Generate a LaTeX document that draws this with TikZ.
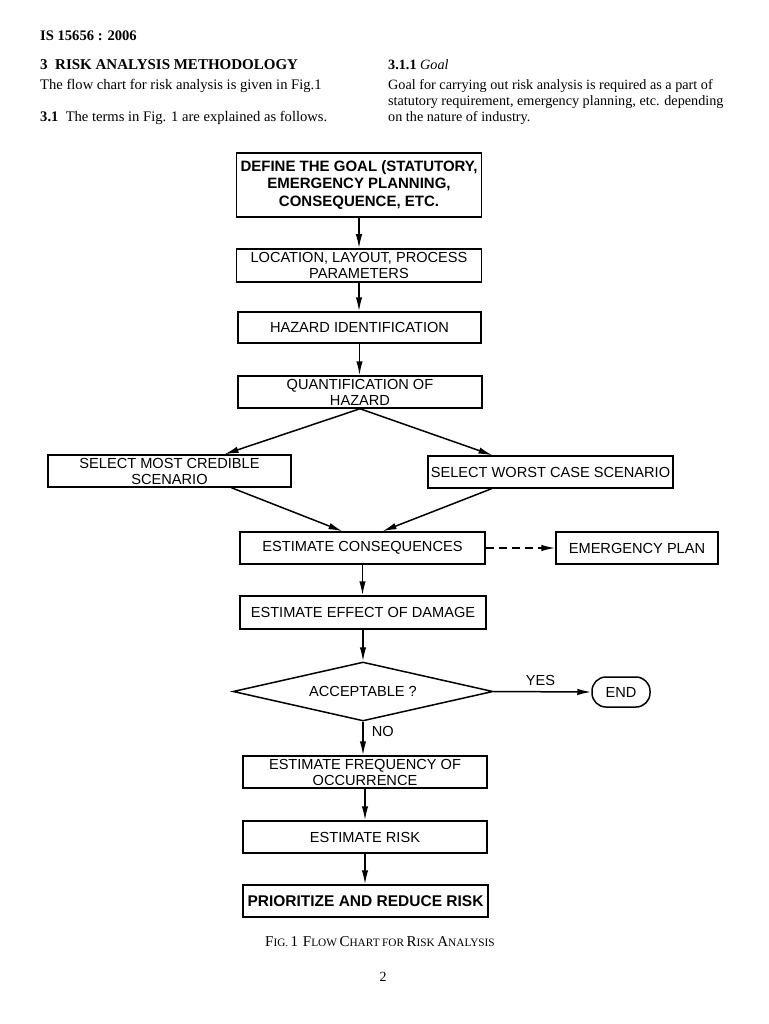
\documentclass[tikz,border=0pt]{standalone}
\usepackage{fontspec}
\setmainfont{Liberation Serif}
\newfontfamily\arialf{Liberation Sans}
\usetikzlibrary{shapes.geometric,arrows.meta}
\newcommand{\capsc}[2]{{\fontsize{15}{17}\selectfont #1}{\fontsize{11.3}{13}\selectfont #2}}
\begin{document}
\begin{tikzpicture}[x=1pt,y=-1pt,
  box/.style={draw, line width=1.5pt, minimum width=245pt, minimum height=32pt, inner sep=0pt, align=center, font=\arialf\fontsize{14.6}{16}\selectfont},
  arr/.style={-{Latex[length=14pt,width=6.5pt]}, line width=1.5pt},
  body/.style={anchor=base west, inner sep=0pt, font=\fontsize{14.6}{16}\selectfont},
  rbody/.style={anchor=base west, inner sep=0pt, font=\fontsize{14.2}{16}\selectfont},
  lbl/.style={inner sep=0pt, font=\arialf\fontsize{14.6}{16}\selectfont}]
\fill[white] (0,0) rectangle (768,1024);
\useasboundingbox (0,0) rectangle (768,1024);
% header text
\node[body] (hdr) at (40,41) {\textbf{IS 15656 : 2006}};
\node[body, font=\fontsize{15}{17}\selectfont] (sec) at (40,70) {\textbf{3\enspace RISK ANALYSIS METHODOLOGY}};
\node[body] (l1) at (40,90) {The flow chart for risk analysis is given in Fig.1};
\node[body] (l2) at (40,122) {\textbf{3.1}\enspace The terms in Fig. 1 are explained as follows.};
\node[rbody] (r0) at (388,70) {\textbf{3.1.1} \textit{Goal}};
\node[rbody] (r1) at (388,90) {Goal for carrying out risk analysis is required as a part of};
\node[rbody] (r2) at (388,106) {statutory requirement, emergency planning, etc. depending};
\node[rbody] (r3) at (388,122) {on the nature of industry.};
% flowchart boxes
\node[box, minimum height=64pt, font=\arialf\bfseries\fontsize{15}{17.5}\selectfont] (goal) at (359,185) {DEFINE THE GOAL (STATUTORY,\\EMERGENCY PLANNING,\\CONSEQUENCE, ETC.};
\node[box, minimum height=33pt] (loc) at (359,265.5) {LOCATION, LAYOUT, PROCESS\\PARAMETERS};
\node[box, minimum width=243pt, minimum height=31pt] (haz) at (359.5,327.5) {HAZARD IDENTIFICATION};
\node[box, minimum width=244pt] (quant) at (360,392) {QUANTIFICATION OF\\HAZARD};
\node[box, minimum width=243pt] (cred) at (169.5,471) {SELECT MOST CREDIBLE\\SCENARIO};
\node[box] (worst) at (550.5,472) {SELECT WORST CASE SCENARIO};
\node[box] (cons) at (362.5,548) {ESTIMATE CONSEQUENCES};
\node[box, minimum width=162pt] (emerg) at (637,548) {EMERGENCY PLAN};
\node[box, minimum width=246pt, minimum height=33pt] (effect) at (363,612.5) {ESTIMATE EFFECT OF DAMAGE};
\node[draw, diamond, line width=1.5pt, minimum width=260pt, minimum height=59pt, aspect=4.4, inner sep=0pt, font=\arialf\fontsize{14.6}{16}\selectfont] (acc) at (363,691.5) {ACCEPTABLE ?};
\node[draw, line width=1.5pt, rounded corners=14pt, minimum width=58pt, minimum height=30pt, inner sep=0pt, font=\arialf\fontsize{14.6}{16}\selectfont] (end) at (621,692) {END};
\node[box, minimum width=244pt] (freq) at (365,772) {ESTIMATE FREQUENCY OF\\OCCURRENCE};
\node[box, minimum width=244pt] (risk) at (365,837) {ESTIMATE RISK};
\node[box, font=\arialf\bfseries\fontsize{15.5}{17}\selectfont] (prio) at (365.5,901) {PRIORITIZE AND REDUCE RISK};
% connectors
\draw[arr] (goal.south) -- (loc.north);
\draw[arr] (loc.south) -- (loc.south |- haz.north);
\draw[arr] (haz.south) -- (haz.south |- quant.north);
\draw[arr] (quant.south) -- ([xshift=55pt]cred.north);
\draw[arr] (quant.south) -- ([xshift=-58pt]worst.north);
\draw[arr] ([xshift=62pt]cred.south) -- ([xshift=-20pt]cons.north);
\draw[arr] ([xshift=-59pt]worst.south) -- ([xshift=20pt]cons.north);
\draw[arr, dash pattern=on 8pt off 5pt] (cons.east) -- (emerg.west);
\draw[arr] (cons.south) -- (cons.south |- effect.north);
\draw[arr] (effect.south) -- (acc.north);
\draw[arr] (acc.east) -- node[lbl, above=5pt, xshift=-2pt] (yes) {YES} (end.west);
\draw[arr] (acc.south) -- node[lbl, right=8pt, pos=0.3] (no) {NO} (acc.south |- freq.north);
\draw[arr] (freq.south) -- (freq.south |- risk.north);
\draw[arr] (risk.south) -- (risk.south |- prio.north);
% caption
\node[inner sep=0pt, anchor=base] (cap) at (380,946) {\capsc{F}{IG}.\ {\fontsize{15}{17}\selectfont 1}\enspace \capsc{F}{LOW} \capsc{C}{HART} \capsc{}{FOR} \capsc{R}{ISK} \capsc{A}{NALYSIS}};
\node[inner sep=0pt, anchor=base, font=\fontsize{14}{16}\selectfont] (pg) at (383,981) {2};
\end{tikzpicture}
\end{document}
